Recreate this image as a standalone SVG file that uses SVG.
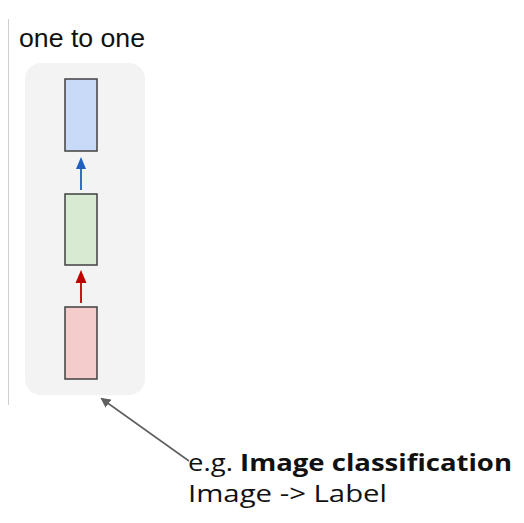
<svg xmlns="http://www.w3.org/2000/svg" width="524" height="523" viewBox="0 0 524 523">
<style>
.cell{stroke:#404040;stroke-width:1.5}
.t{font-family:"Open Sans","Noto Sans",sans-serif;font-size:24px;fill:#111}
</style>
<defs>
<marker id="ag" markerWidth="10" markerHeight="10" refX="8" refY="5" orient="auto" markerUnits="userSpaceOnUse" viewBox="0 0 10 10"><path d="M0,0 L10,5 L0,10 z" fill="#606060"/></marker>
</defs>
<rect width="524" height="523" fill="#fff"/>
<line x1="8.5" y1="19" x2="8.5" y2="405" stroke="#cfcfcf" stroke-width="1"/>
<text x="19" y="47" font-family="Liberation Sans,Arial,sans-serif" font-size="25" fill="#111" textLength="126" lengthAdjust="spacingAndGlyphs">one to one</text>
<rect x="25" y="63" width="120" height="332" rx="16" fill="#f3f3f3"/>
<g id="output"><rect class="cell" x="65" y="79" width="32" height="72" fill="#c9daf8"/></g>
<g id="hidden"><rect class="cell" x="65" y="194" width="32" height="71" fill="#d9ead3"/></g>
<g id="input"><rect class="cell" x="65" y="307" width="32" height="72" fill="#f4cccc"/></g>
<g id="connectors">
<line x1="81" y1="190" x2="81" y2="168" stroke="#1f5fbf" stroke-width="1.8"/>
<polygon points="81,157 86,169 76,169" fill="#1f5fbf"/>
<line x1="81" y1="303" x2="81" y2="282" stroke="#c00000" stroke-width="1.8"/>
<polygon points="81,270 86.5,283 75.5,283" fill="#c00000"/>
<line x1="189" y1="461" x2="102" y2="399" stroke="#606060" stroke-width="1.6" marker-end="url(#ag)"/>
</g>
<g id="label">
<text class="t" x="188" y="471" textLength="324" lengthAdjust="spacingAndGlyphs">e.g. <tspan font-weight="bold">Image classification</tspan></text>
<text class="t" x="188" y="502" textLength="199" lengthAdjust="spacingAndGlyphs">Image -&gt; Label</text>
</g>
</svg>
